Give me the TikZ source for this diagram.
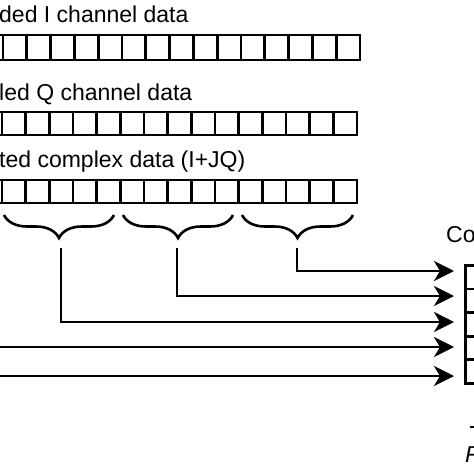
\documentclass[tikz,border=0pt]{standalone}
\usepackage{fontspec}
\setmainfont{Liberation Sans}
\usetikzlibrary{arrows.meta,decorations.pathreplacing}
\begin{document}
\begin{tikzpicture}[x=1pt,y=-1pt,
  lbl/.style={anchor=base west, inner sep=0pt, font=\fontsize{23}{27}\selectfont},
  cellline/.style={line width=2.8pt},
  conn/.style={line width=2.6pt},
  arr/.style={conn, -{Stealth[length=20pt,width=20pt,inset=6pt]}},
  brc/.style={line width=2.6pt, decorate, decoration={brace, amplitude=23pt, mirror}},
  reg/.style={draw, line width=2.8pt, minimum width=60pt, minimum height=23.6pt, anchor=north west, inner sep=0pt}]
\useasboundingbox (0,0) rectangle (474,474);
\clip (0,0) rectangle (474,474);

% texts
\node[lbl] (ti) at (-1,22) {ded I channel data};
\node[lbl] (tq) at (-1,100) {led Q channel data};
\node[lbl] (tc) at (-1,167) {ted complex data (I+JQ)};
\node[lbl] (tco) at (446,242) {Co};
\node[lbl, font=\fontsize{23}{27}\selectfont\itshape] (tf) at (465,462) {F};

% data rows
\foreach \i in {0,...,15} {
  \draw[cellline] ({-20.8+23.8*\i},35) rectangle ++(23.8,25);
  \draw[cellline] ({-21.7+23.67*\i},112) rectangle ++(23.67,23);
  \draw[cellline] ({-21.7+23.67*\i},180) rectangle ++(23.67,23);
}

% braces
\draw[brc] (4,215) -- (114,215);
\draw[brc] (123,215) -- (233,215);
\draw[brc] (242,215) -- (353,215);

% register
\node[reg] (reg1) at (464,264) {};
\node[reg] (reg2) at (464,287.6) {};
\node[reg] (reg3) at (464,311.2) {};
\node[reg] (reg4) at (464,334.8) {};
\node[reg] (reg5) at (464,358.4) {};

% connector ends
\coordinate (s1) at (61,248);
\coordinate (s2) at (177,248);
\coordinate (s3) at (297,248);
\coordinate (l4) at (-5,347);
\coordinate (l5) at (-5,376);
\coordinate (t1) at (454,271);
\coordinate (t2) at (454,296);
\coordinate (t3) at (454,322);
\coordinate (t4) at (454,347);
\coordinate (t5) at (454,376);

\draw[arr] (s3) |- (t1);
\draw[arr] (s2) |- (t2);
\draw[arr] (s1) |- (t3);
\draw[arr] (l4) -- (t4);
\draw[arr] (l5) -- (t5);

% fragment at bottom right
\coordinate (d1) at (470,427);
\coordinate (d2) at (480,427);
\draw[conn] (d1) -- (d2);
\end{tikzpicture}
\end{document}
